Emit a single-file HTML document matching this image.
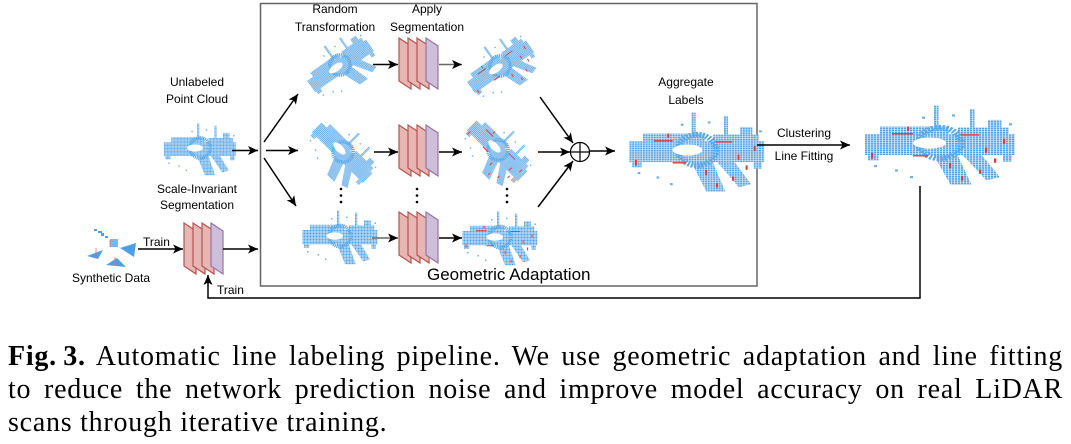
<!DOCTYPE html>
<html><head><meta charset="utf-8">
<style>
html,body{margin:0;padding:0;background:#fff;}
body{width:1071px;height:444px;position:relative;overflow:hidden;}
.cap{position:absolute;left:8px;width:1055px;font-family:"Liberation Serif",serif;font-size:28px;line-height:33px;color:#000;letter-spacing:0.75px;white-space:normal;}
.j{text-align:justify;text-align-last:justify;}
svg text{font-family:"Liberation Sans",sans-serif;fill:#000;}
</style></head>
<body>
<svg width="1071" height="330" viewBox="0 0 1071 330" style="position:absolute;left:0;top:0">
<defs>
 <pattern id="pp" width="2" height="2" patternUnits="userSpaceOnUse"><rect width="2" height="2" fill="#cfe5f8"/><rect width="1.4" height="1.4" fill="#4fa2e6"/></pattern>
 <marker id="ah" markerWidth="11" markerHeight="10" refX="10" refY="5" orient="auto" markerUnits="userSpaceOnUse"><path d="M0,0.5 L10,5 L0,9.5 L2.5,5 z" fill="#000"/></marker>
 <g id="pc">
  <g fill="url(#pp)">
   <rect x="-50" y="-8" width="100" height="19"/>
   <rect x="-40" y="-15" width="46" height="8"/>
   <rect x="12" y="-14" width="34" height="7"/>
   <rect x="32" y="-21" width="9" height="8"/>
   <polygon points="-5,9 11,9 21,38 7,38"/>
   <polygon points="13,8 26,8 40,31 31,34"/>
   <rect x="-4" y="-34" width="3" height="21"/>
   <rect x="20" y="-31" width="3" height="18"/>
   <rect x="-48" y="11" width="7" height="5"/>
   <rect x="42" y="11" width="6" height="6"/>
  </g>
  <circle r="14" fill="none" stroke="#5aa9e8" stroke-width="5" stroke-dasharray="1.5 1"/>
  <ellipse cx="-7" cy="0" rx="11" ry="5" fill="#fff"/>
  <g fill="#6fb2ea">
   <rect x="-44" y="20" width="2" height="2"/><rect x="-30" y="24" width="2" height="2"/>
   <rect x="46" y="-18" width="2" height="2"/><rect x="-12" y="-24" width="2" height="2"/>
   <rect x="8" y="-26" width="2" height="2"/><rect x="-20" y="30" width="2" height="2"/>
  </g>
 </g>
 <g id="red" fill="#e23b3b">
  <rect x="-32" y="-9" width="14" height="1.3"/>
  <rect x="14" y="-8" width="12" height="1.3"/>
  <rect x="-46" y="9" width="1.5" height="5"/>
  <rect x="30" y="4" width="1.5" height="5"/>
  <rect x="6" y="18" width="1.5" height="5"/>
  <rect x="26" y="24" width="1.5" height="4"/>
  <rect x="-18" y="11" width="10" height="1.3"/>
  <rect x="42" y="-4" width="1.5" height="5"/>
  <rect x="-22" y="-15" width="1.5" height="4"/>
  <rect x="36" y="14" width="1.5" height="4"/>
  <rect x="14" y="30" width="1.5" height="4"/>
 </g>
 <g id="seg" stroke-width="1.2">
  <polygon points="0,0 12,8 12,51 0,43" fill="#e5b6b3" stroke="#b85450"/>
  <polygon points="9,0 21,8 21,51 9,43" fill="#e5b6b3" stroke="#b85450"/>
  <polygon points="18,0 30,8 30,51 18,43" fill="#e5b6b3" stroke="#b85450"/>
  <polygon points="27,0 39,8 39,51 27,43" fill="#cdbfd8" stroke="#9673a6"/>
 </g>
 <g id="vd" fill="#000">
  <circle cx="0" cy="0" r="1.3"/><circle cx="0" cy="6.5" r="1.3"/><circle cx="0" cy="13" r="1.3"/>
 </g>
</defs>

<rect x="260.5" y="3.5" width="496.5" height="282.5" fill="none" stroke="#666" stroke-width="1.5"/>

<g font-size="12" text-anchor="middle">
 <text x="197" y="86">Unlabeled</text>
 <text x="197" y="103">Point Cloud</text>
 <text x="197" y="193">Scale-Invariant</text>
 <text x="197" y="209">Segmentation</text>
 <text x="111" y="282">Synthetic Data</text>
 <text x="335" y="13">Random</text>
 <text x="335" y="31">Transformation</text>
 <text x="427" y="13">Apply</text>
 <text x="427" y="31">Segmentation</text>
 <text x="686" y="86">Aggregate</text>
 <text x="686" y="104">Labels</text>
 <text x="804" y="137">Clustering</text>
 <text x="804" y="160">Line Fitting</text>
</g>
<text x="143" y="246" font-size="12">Train</text>
<text x="217" y="294" font-size="12">Train</text>
<text x="427" y="280" font-size="17">Geometric Adaptation</text>

<use href="#pc" transform="translate(200,148) scale(0.72)"/>
<use href="#pc" transform="translate(340,65) rotate(-35) scale(0.72)"/>
<use href="#pc" transform="translate(343,152) rotate(45) scale(0.72)"/>
<use href="#pc" transform="translate(340,236) scale(0.75)"/>
<g transform="translate(500,66) rotate(-35) scale(0.72)"><use href="#pc"/><use href="#red"/></g>
<g transform="translate(498,150) rotate(45) scale(0.72)"><use href="#pc"/><use href="#red"/></g>
<g transform="translate(500,237) scale(0.75)"><use href="#pc"/><use href="#red"/></g>
<g transform="translate(697,150) scale(1.35,1.1)"><use href="#pc"/><use href="#red"/></g>
<g transform="translate(940,143) scale(1.5,1.1)"><use href="#pc"/><use href="#red"/></g>

<g fill="#4a9fe6">
 <rect x="94" y="229" width="3" height="2"/><rect x="98" y="231" width="4" height="2"/><rect x="101" y="233" width="3" height="3"/><rect x="105" y="236" width="3" height="2"/>
 <rect x="110" y="239" width="8" height="8" fill="#7ab8ec"/>
 <polygon points="87,256 103,250 98,259"/>
 <polygon points="120,248 136,243 134,257"/>
 <polygon points="106,265 117,258 126,267"/>
</g>
<g stroke="#e46a6a" stroke-width="0.8">
 <line x1="96" y1="248" x2="96" y2="258"/><line x1="115" y1="257" x2="115" y2="265"/><line x1="110" y1="240" x2="110" y2="247"/>
</g>

<use href="#seg" x="184" y="223"/>
<use href="#seg" x="399" y="38"/>
<use href="#seg" x="399" y="125"/>
<use href="#seg" x="399" y="212"/>

<use href="#vd" x="341" y="189"/>
<use href="#vd" x="417" y="189"/>
<use href="#vd" x="507" y="189"/>

<g stroke="#000" stroke-width="1.5" fill="none" marker-end="url(#ah)">
 <line x1="232" y1="150.5" x2="258" y2="150.5"/>
 <line x1="264" y1="142" x2="298" y2="94"/>
 <line x1="266" y1="150.5" x2="298" y2="150.5"/>
 <line x1="264" y1="158" x2="296" y2="206"/>
 <line x1="138" y1="249" x2="183" y2="249"/>
 <line x1="223" y1="249" x2="258" y2="249"/>
 <line x1="373" y1="64.5" x2="398" y2="64.5"/>
 <line x1="439" y1="64.5" x2="462" y2="64.5" stroke="#666"/>
 <line x1="374" y1="152" x2="398" y2="152"/>
 <line x1="439" y1="152" x2="462" y2="152"/>
 <line x1="372" y1="238" x2="398" y2="238" stroke="#666"/>
 <line x1="439" y1="238" x2="462" y2="238"/>
 <line x1="540" y1="97" x2="573" y2="143"/>
 <line x1="538" y1="152" x2="570" y2="152"/>
 <line x1="538" y1="207" x2="573" y2="161"/>
 <line x1="590" y1="151" x2="615" y2="151"/>
 <line x1="757" y1="145" x2="850" y2="145"/>
 <path d="M920,186 V298 H208 V275"/>
</g>
<circle cx="580" cy="152" r="9.5" fill="#fff" stroke="#000" stroke-width="1.2"/>
<path d="M570.5,152 H589.5 M580,142.5 V161.5" stroke="#000" stroke-width="1.2"/>
</svg>

<div class="cap j" style="top:340px;"><b>Fig.&#8201;3.</b> Automatic line labeling pipeline. We use geometric adaptation and line fitting</div>
<div class="cap j" style="top:373px;">to reduce the network prediction noise and improve model accuracy on real LiDAR</div>
<div class="cap" style="top:406.4px;">scans through iterative training.</div>
</body></html>
